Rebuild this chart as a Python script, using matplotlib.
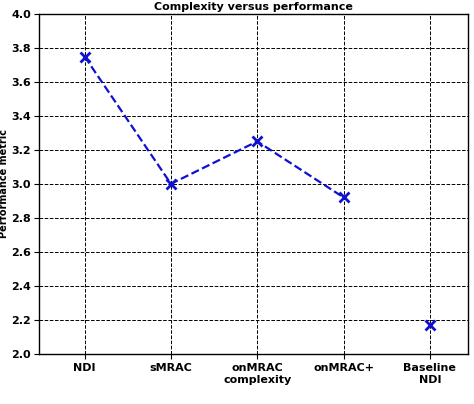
import matplotlib
matplotlib.use("Agg")
import matplotlib.pyplot as plt

categories = ["NDI", "sMRAC", "onMRAC\ncomplexity", "onMRAC+", "Baseline\nNDI"]
line_values = [3.75, 3.0, 3.25, 2.92]
baseline_value = 2.17
yticks = [2.0, 2.2, 2.4, 2.6, 2.8, 3.0, 3.2, 3.4, 3.6, 3.8, 4.0]

fig = plt.figure(figsize=(4.74, 4.04), dpi=100)
ax = fig.add_axes([0.082, 0.125, 0.905, 0.84])
x = list(range(len(categories)))
ax.plot(x[:4], line_values, color="#1010d0", linestyle="--", linewidth=1.6,
        marker="x", markersize=7, markeredgewidth=2)
ax.plot([x[4]], [baseline_value], color="#1010d0", linestyle="none",
        marker="x", markersize=7, markeredgewidth=2)
ax.set_xlim(-0.53, 4.44)
ax.set_ylim(2.0, 4.0)
ax.set_yticks(yticks)
ax.set_yticklabels([f"{v:.1f}" for v in yticks], fontsize=8, fontweight="bold")
ax.tick_params(axis="y", pad=2)
ax.set_xticks(x)
ax.set_xticklabels(categories, fontsize=8, fontweight="bold")
ax.grid(True, color="black", linestyle="--", linewidth=0.7)
ax.set_ylabel("Performance metric", fontsize=7, fontweight="bold", labelpad=2)
ax.set_title("Complexity versus performance", fontsize=8, fontweight="bold", pad=3)
for s in ax.spines.values():
    s.set_linewidth(1)
fig.savefig("out.png", dpi=100)
